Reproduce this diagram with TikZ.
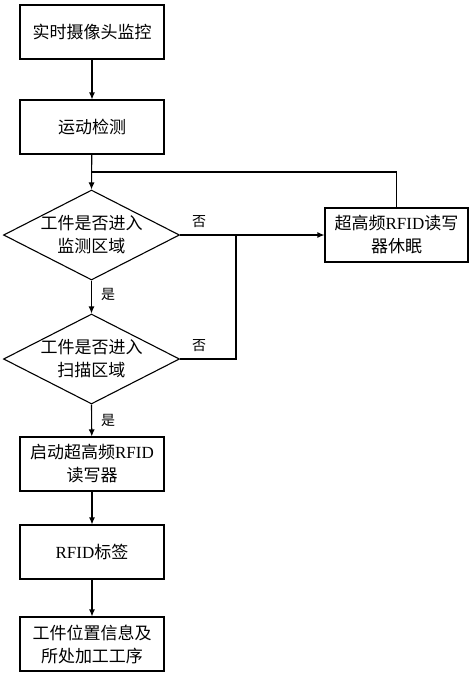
\documentclass[tikz,border=0pt]{standalone}
\usepackage{fontspec}
\setmainfont{Liberation Serif}
\newfontfamily\cjk{Noto Sans CJK SC}
\usetikzlibrary{arrows.meta,shapes.geometric}
\newcommand{\lat}[1]{{\rmfamily #1}}
\begin{document}
\begin{tikzpicture}[x=1pt,y=-1pt,
 txtfont/.style={font=\cjk\fontsize{17}{23}\selectfont},
 box/.style={draw, line width=1.1pt, minimum width=144pt, minimum height=54pt, inner sep=0pt, align=center, txtfont},
 dia/.style={draw, diamond, line width=1.1pt, minimum width=176pt, minimum height=90pt, inner sep=0pt},
 dtxt/.style={align=center, inner sep=0pt, txtfont},
 lbl/.style={font=\cjk\fontsize{14}{16}\selectfont, inner sep=0pt},
 arr/.style={line width=1.1pt, -{Latex[length=7pt,width=6pt]}},
 ln/.style={line width=1.1pt}]
\useasboundingbox (0,0) rectangle (474,675);
\node[box] (b1) at (92,32) {实时摄像头监控};
\node[box] (b2) at (92,127) {运动检测};
\node[dia] (d1) at (91.5,235) {};
\node[dtxt] (t1) at (d1.center) {工件是否进入\\监测区域};
\node[dia] (d2) at (91.5,359) {};
\node[dtxt] (t2) at (d2.center) {工件是否进入\\扫描区域};
\node[box] (b3) at (92,464) {启动超高频\lat{RFID}\\读写器};
\node[box] (b4) at (92,552) {\lat{RFID}标签};
\node[box] (b5) at (92,644) {工件位置信息及\\所处加工工序};
\node[box, minimum width=143pt] (s) at (396.5,235) {超高频\lat{RFID}读写\\器休眠};
\coordinate (fb) at (92,172);
\coordinate (j1) at (236,235);
\draw[arr] (b1) -- (b2);
\draw[arr] (b2) -- (d1.north);
\draw[arr] (d1.south) -- (d2.north);
\draw[arr] (d2.south) -- (b3);
\draw[arr] (b3) -- (b4);
\draw[arr] (b4) -- (b5);
\draw[arr] (d1.east) -- (s.west);
\draw[ln] (s.north) |- (fb);
\draw[ln] (d2.east) -| (j1);
\node[lbl] (n1) at (199,222) {否};
\node[lbl] (n2) at (199,346) {否};
\node[lbl] (y1) at (108,294) {是};
\node[lbl] (y2) at (108,420) {是};
\end{tikzpicture}
\end{document}
